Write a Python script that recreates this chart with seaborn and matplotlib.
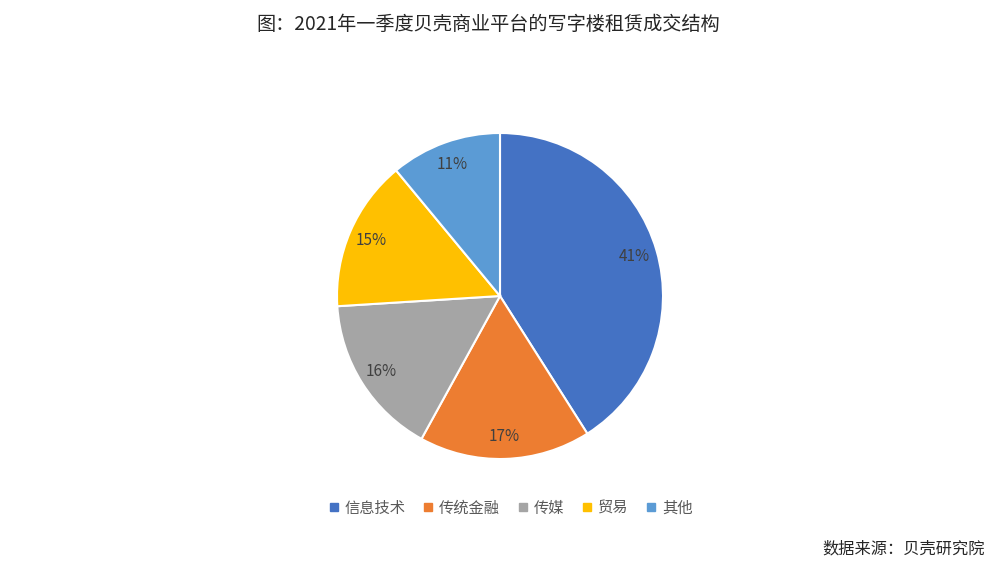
import matplotlib.pyplot as plt
import seaborn as sns
from matplotlib.lines import Line2D

# data
categories = ["信息技术", "传统金融", "传媒", "贸易", "其他"]
shares = [41, 17, 16, 15, 11]
colors = ["#4472C4", "#ED7D31", "#A5A5A5", "#FFC000", "#5B9BD5"]

title = "图：2021年一季度贝壳商业平台的写字楼租赁成交结构"
source = "数据来源：贝壳研究院"

sns.set_theme(style="white")
plt.rcParams["font.family"] = ["Noto Sans CJK SC", "DejaVu Sans"]

fig = plt.figure(figsize=(10, 5.63), dpi=100)
fig.patch.set_facecolor("white")

# pie centre ~ (500, 296) px, radius ~ 163 px
r_px = 163
w = 2 * r_px / 1000
h = 2 * r_px / 563
ax = fig.add_axes([0.5 - w / 2, (1 - 296 / 563) - h / 2, w, h])

wedges, _, autotexts = ax.pie(
    shares, colors=colors, startangle=90, counterclock=False,
    autopct="%d%%", pctdistance=0.86, radius=1,
    wedgeprops=dict(edgecolor="white", linewidth=1.5),
    textprops=dict(color="#404040", fontsize=11),
)
ax.set_xlim(-1, 1)
ax.set_ylim(-1, 1)
ax.set_aspect("equal")
ax.axis("off")

fig.text(0.488, 1 - 24 / 563, title, ha="center", va="center",
         fontsize=13.8, color="#262626")

handles = [Line2D([], [], marker="s", linestyle="none", markersize=6,
                  markerfacecolor=c, markeredgecolor=c) for c in colors]
fig.legend(handles, categories, loc="center", ncol=5,
           bbox_to_anchor=(0.51, 1 - 508 / 563), frameon=False,
           fontsize=11, handlelength=0.8, handletextpad=0.3,
           columnspacing=1.1, labelcolor="#595959")

fig.text(985 / 1000, 1 - 549 / 563, source, ha="right", va="center",
         fontsize=11.7, color="#262626")

fig.savefig("out.png", dpi=100, facecolor="white")
